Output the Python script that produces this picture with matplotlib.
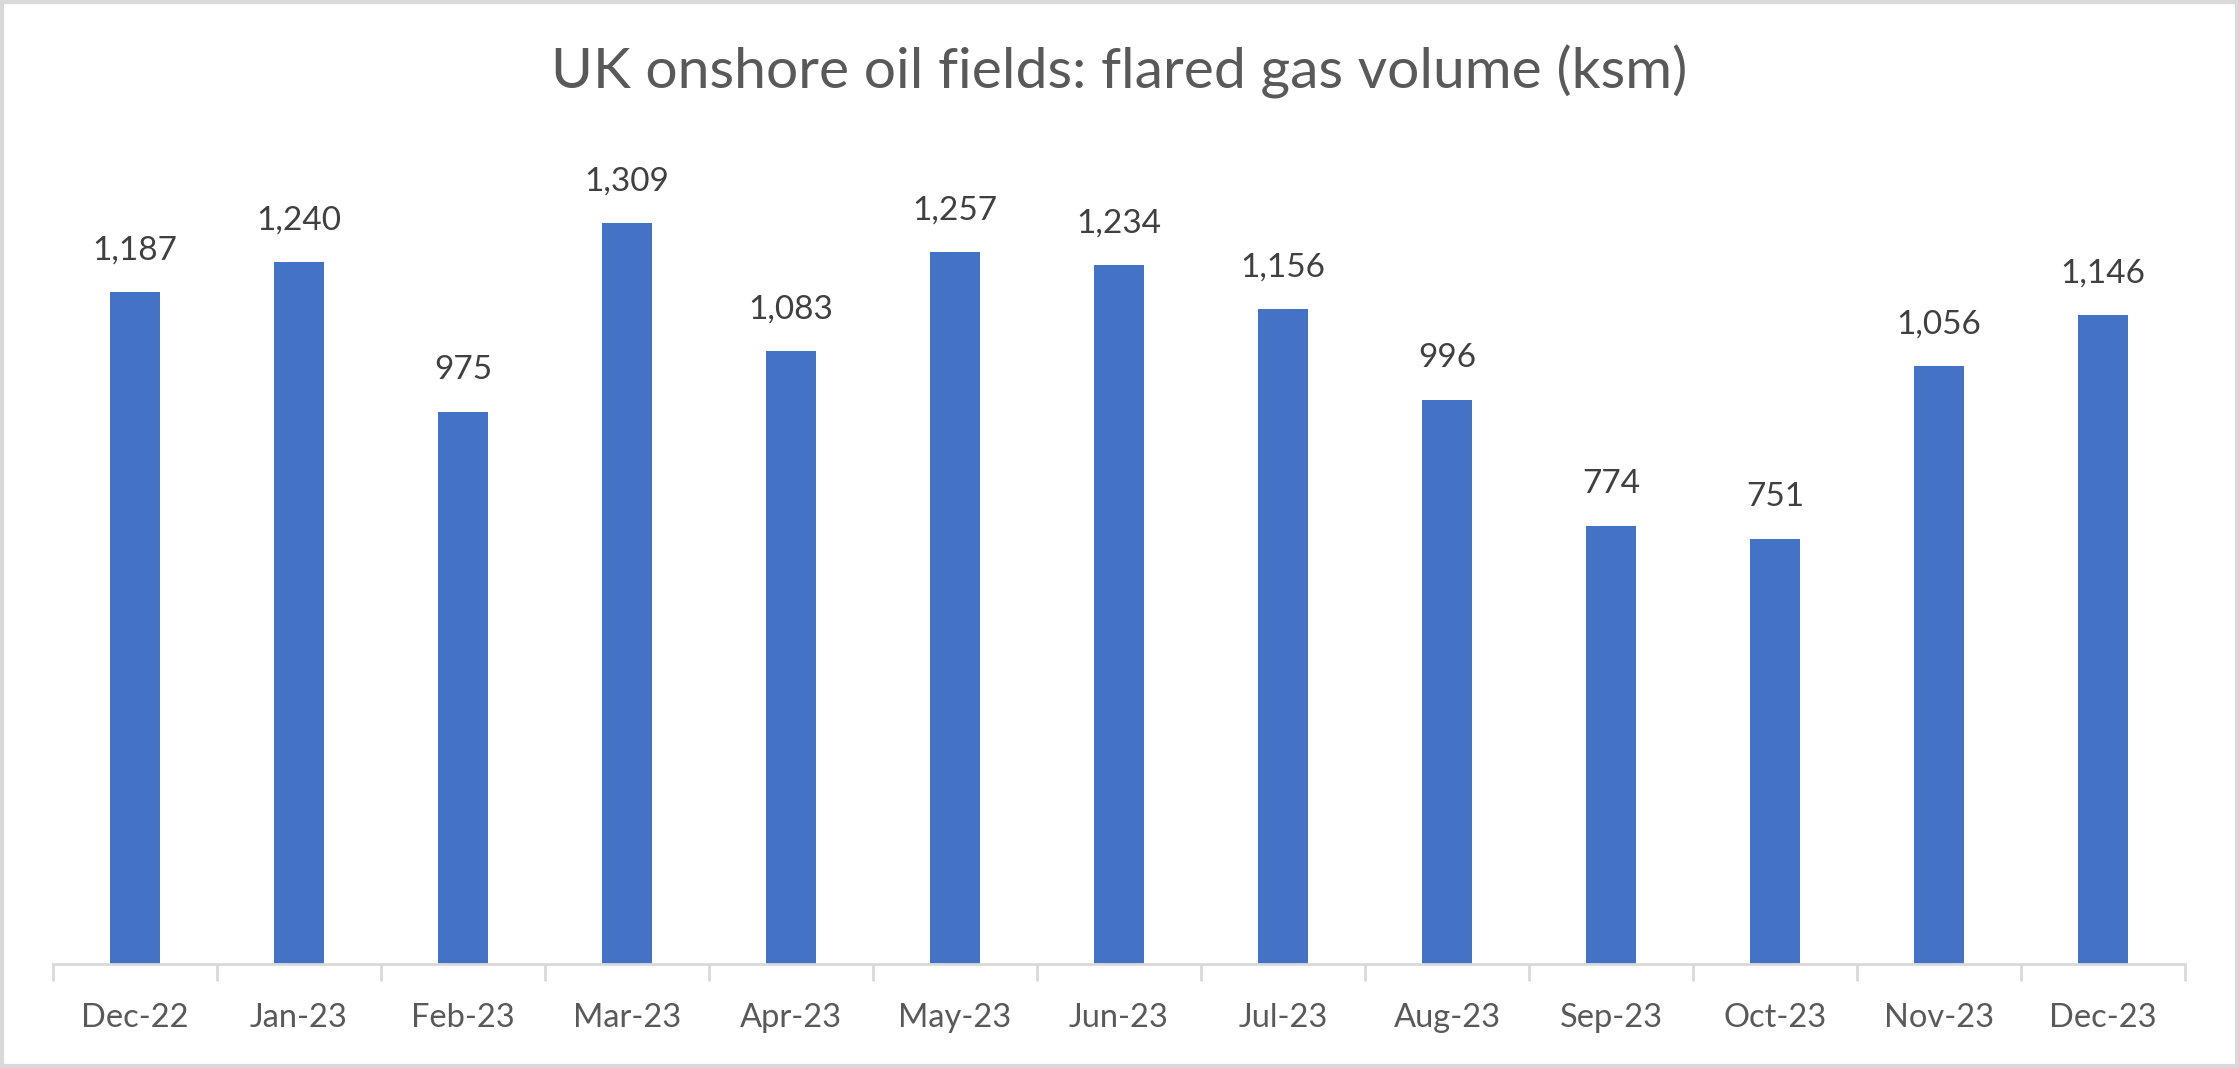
"""
UK onshore oil fields: monthly flared gas volume, Dec-22 to Dec-23
"""
import numpy as np
import matplotlib.pyplot as plt
from matplotlib.patches import Rectangle

months = ["Dec-22", "Jan-23", "Feb-23", "Mar-23", "Apr-23", "May-23", "Jun-23",
          "Jul-23", "Aug-23", "Sep-23", "Oct-23", "Nov-23", "Dec-23"]
flared_ksm = [1187, 1240, 975, 1309, 1083, 1257, 1234, 1156, 996, 774, 751, 1056, 1146]

plt.rcParams['font.family'] = ['Lato', 'DejaVu Sans']


def main():
    fig = plt.figure(figsize=(22.39, 10.68), dpi=100)
    ax = fig.add_axes([53 / 2239, 104 / 1068, 2132 / 2239, 793 / 1068])

    x = np.arange(len(months))
    bars = ax.bar(x, flared_ksm, width=0.31, color="#4472C4", zorder=2)
    ax.bar_label(bars, labels=[f"{v:,}" for v in flared_ksm], padding=19,
                 fontsize=24, color="#404040")

    ax.set_xlim(-0.5, len(months) - 0.5)
    ax.set_ylim(0, 1400)
    ax.set_yticks([])
    ax.set_xticks(x, months)
    ax.set_xticks(np.arange(-0.5, len(months)), minor=True)
    ax.tick_params(axis="x", which="major", length=0, pad=28, labelsize=23.5,
                   labelcolor="#595959")
    ax.tick_params(axis="x", which="minor", length=12, width=2, color="#D9D9D9")
    for side in ("top", "right", "left"):
        ax.spines[side].set_visible(False)
    ax.spines["bottom"].set_color("#D9D9D9")
    ax.spines["bottom"].set_linewidth(2)

    fig.text(0.5, 1 - 72 / 1068, "UK onshore oil fields: flared gas volume (ksm)",
             ha="center", va="center", fontsize=41, color="#595959")

    # chart border
    fig.patches.append(Rectangle((0.001, 0.002), 0.998, 0.996, transform=fig.transFigure,
                                 fill=False, edgecolor="#D9D9D9", linewidth=3))

    fig.savefig("out.png", dpi=100)


if __name__ == "__main__":
    main()
